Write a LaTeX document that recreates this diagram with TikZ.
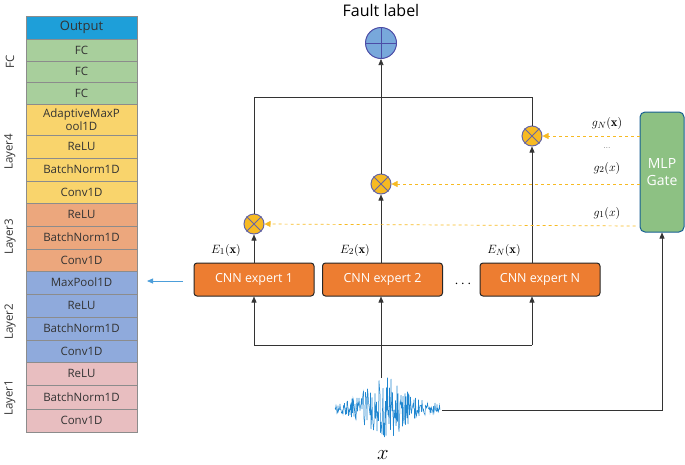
\documentclass[tikz,border=0pt]{standalone}
\usepackage{fontspec}
\setsansfont{Open Sans}
\usetikzlibrary{arrows.meta}
\definecolor{cout}{HTML}{1E9FD9}
\definecolor{cfc}{HTML}{A8CF9C}
\definecolor{cyel}{HTML}{F9D46C}
\definecolor{cora}{HTML}{ECA77D}
\definecolor{cblu}{HTML}{8FAADC}
\definecolor{cpnk}{HTML}{E8BEC0}
\definecolor{cexp}{HTML}{ED7D31}
\definecolor{cgate}{HTML}{8DC183}
\definecolor{cgold}{HTML}{F7BA22}
\definecolor{csig}{HTML}{1F86D0}
\begin{document}
\begin{tikzpicture}[x=1pt,y=-1pt,font=\sffamily,
 lay/.style={draw=black!45,line width=0.5pt,minimum width=111pt,inner sep=0pt,align=center,font=\sffamily\fontsize{11.5}{11}\selectfont,text=black!80},
 side/.style={rotate=90,font=\sffamily\fontsize{11.5}{11}\selectfont,text=black!80},
 exp/.style={draw=black!85,line width=1pt,rounded corners=3pt,fill=cexp,text=white,minimum width=120pt,minimum height=33pt,font=\sffamily\fontsize{12.5}{12}\selectfont},
 mul/.style={circle,draw=black!60!blue!60,line width=1pt,fill=cgold,minimum size=20pt,inner sep=0pt},
 arr/.style={-{Triangle[length=6pt,width=5pt]},black!80,line width=0.6pt},
 garr/.style={-{Triangle[length=6pt,width=6pt]},cgold,dashed,line width=0.7pt},
 lbl/.style={font=\fontsize{12.5}{12}\selectfont}]
\useasboundingbox (0,0) rectangle (685,464);
% left stack
\foreach \a/\b/\c/\t [count=\i] in {16/39/cout/{\fontsize{13}{13}\selectfont Output},39/61/cfc/FC,61/82/cfc/FC,82/104/cfc/FC,104/135/cyel/{AdaptiveMaxP\\ool1D},135/158/cyel/ReLU,158/181/cyel/BatchNorm1D,181/203/cyel/Conv1D,203/226/cora/ReLU,226/249/cora/BatchNorm1D,249/271/cora/Conv1D,271/294/cblu/MaxPool1D,294/317/cblu/ReLU,317/340/cblu/BatchNorm1D,340/362/cblu/Conv1D,362/385/cpnk/ReLU,385/409/cpnk/BatchNorm1D,409/432/cpnk/Conv1D}
  \node[lay,fill=\c,minimum height={(\b-\a)*1pt}] (L\i) at (81.5,{(\a+\b)/2}) {\t};
\node[side] (sFC) at (10,62) {FC};
\node[side] (s4) at (10,152) {Layer4};
\node[side] (s3) at (10,237) {Layer3};
\node[side] (s2) at (10,322) {Layer2};
\node[side] (s1) at (10,398) {Layer1};
% experts
\node[exp] (e1) at (254,279.5) {CNN expert 1};
\node[exp] (e2) at (382.5,279.5) {CNN expert 2};
\node[exp] (eN) at (540,279.5) {CNN expert N};
\node (dots) at (463,284) {\fontsize{14}{14}\selectfont$\cdots$};
\coordinate (a0) at (183,281); \coordinate (a1) at (147,281);
\draw[-{Triangle[length=6pt,width=5pt]},csig!80,line width=0.8pt] (a0) -- (a1);
% multipliers
\node[mul] (m1) at (254,224) {};
\node[mul] (m2) at (381,184) {};
\node[mul] (mN) at (532,136) {};
\foreach \m in {m1,m2,mN}{
 \draw[black!60!blue!60,line width=1pt] (\m.45) -- (\m.225) (\m.135) -- (\m.315);}
\node[circle,draw=black!50!blue!70,line width=1pt,fill=cblu!80!cout,minimum size=31pt,inner sep=0pt] (plus) at (381,43) {};
\draw[black!50!blue!70,line width=1pt] (plus.north)--(plus.south) (plus.west)--(plus.east);
\node[font=\sffamily\fontsize{16}{16}\selectfont] (fl) at (381,10) {Fault label};
% gate
\node[draw=csig!70!black,line width=1pt,rounded corners=5pt,fill=cgate,minimum width=44pt,minimum height=120pt,text=white,align=center,font=\sffamily\fontsize{14}{17}\selectfont] (gate) at (662,172) {MLP\\Gate};
% expert outputs
\draw[arr] (e1.north -| m1) -- (m1.south);
\draw[arr] (e2.north -| m2) -- (m2.south);
\draw[arr] (eN.north -| mN) -- (mN.south);
\coordinate (t1) at (254,97); \coordinate (tN) at (532,97); \coordinate (t2) at (381,97);
\draw[black!80,line width=0.6pt] (m1.north) -- (t1) -- (tN) -- (mN.north);
\draw[black!80,line width=0.6pt] (m2.north) -- (t2);
\draw[arr] (t2) -- (plus.south);
% gate arrows
\draw[garr] (gate.west |- m1) ++(-4,2) coordinate(g1) -- (m1.east);
\draw[garr] (gate.west |- m2) coordinate(g2) -- (m2.east);
\draw[garr] (gate.west |- mN) coordinate(gN) -- (mN.east);
\node[lbl] at (607,213) {$g_1(x)$};
\node[lbl] at (607,168) {$g_2(x)$};
\node[font=\fontsize{7}{7}\selectfont] at (607,148) {...};
\node[lbl] at (607,123) {$g_N(\mathbf{x})$};
\node[lbl] at (226,250) {$E_1(\mathbf{x})$};
\node[lbl] at (355,250) {$E_2(\mathbf{x})$};
\node[lbl] at (504,250) {$E_N(\mathbf{x})$};
% signal
\pgfmathsetseed{7}
\draw[csig,line width=0.5pt] (335,408) \foreach \k in {1,...,210}{ -- ({335+\k*0.5},{408+(rand*(5+26*exp(-((\k-100)/50)^2)))})};
\coordinate (sig) at (381,378);
\coordinate (sR) at (442,410);
\node[font=\fontsize{22}{22}\selectfont] (xl) at (383,455) {$x$};
\coordinate (b) at (381,345); \coordinate (b1) at (254,345); \coordinate (bN) at (532,345);
\draw[black!80,line width=0.6pt] (sig) -- (b) (b1) -- (bN);
\draw[arr] (b1) -- (e1.south -| b1);
\draw[arr] (b) -- (e2.south -| b);
\draw[arr] (bN) -- (eN.south -| bN);
\draw[arr] (sR) -- (662,410) -- (gate.south);
\end{tikzpicture}
\end{document}
